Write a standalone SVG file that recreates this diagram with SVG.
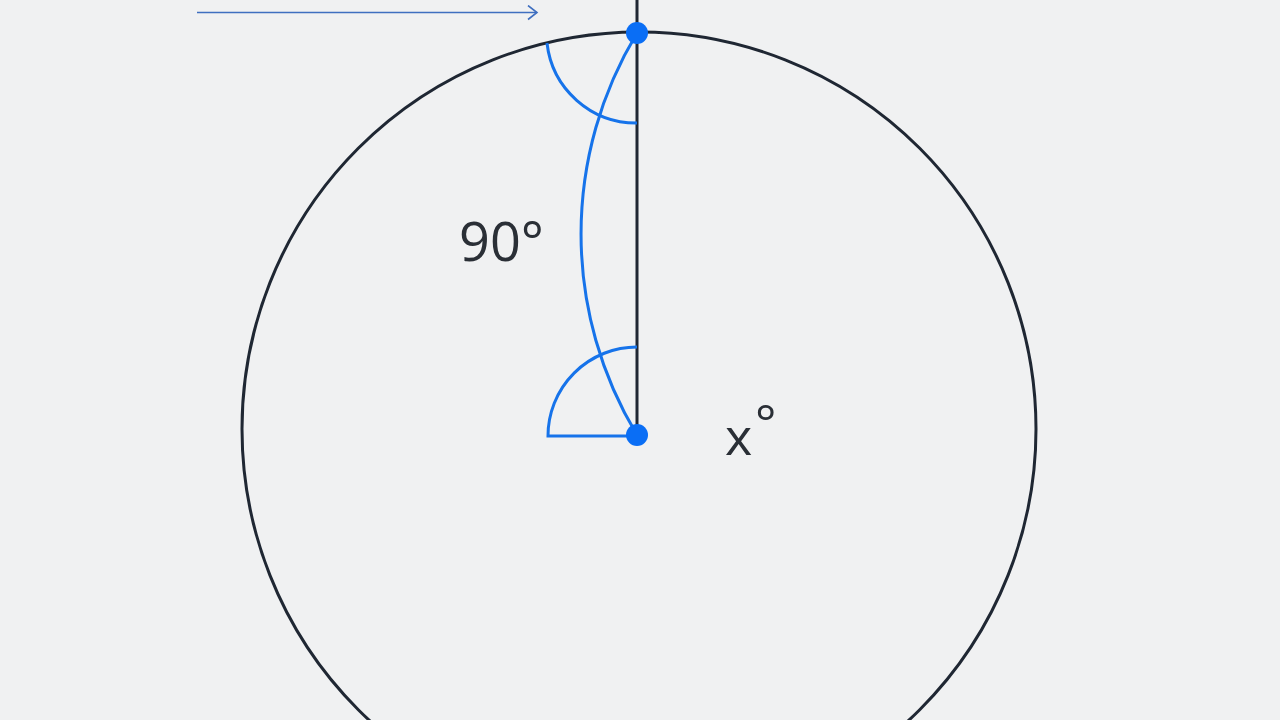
<svg xmlns="http://www.w3.org/2000/svg" width="1280" height="720" viewBox="0 0 1280 720">
<defs>
<style>
.dark{fill:none;stroke:#1f2733;stroke-width:3}
.blue{fill:none;stroke:#1673ea;stroke-width:3}
.dot{fill:#0a6ef5}
.lbl{font-family:"Open Sans","Noto Sans",sans-serif;fill:#2a2f36}
</style>
<marker id="chev" markerWidth="14" markerHeight="16" refX="11" refY="8" orient="auto" markerUnits="userSpaceOnUse">
<path d="M2,1 L11,8 L2,15" fill="none" stroke="#3f6fc0" stroke-width="1.6"/>
</marker>
</defs>
<rect width="1280" height="720" fill="#f0f1f2"/>
<g id="circle"><circle class="dark" cx="639" cy="429" r="397"/></g>
<g id="connectors">
<line class="dark" x1="637" y1="0" x2="637" y2="435"/>
<path class="blue" d="M637,33 A389,389 0 0 0 637,435"/>
<path class="blue" d="M547,43 A90,90 0 0 0 637,123"/>
<path class="blue" d="M637,347 A89,89 0 0 0 548,436 L637,436"/>
<line x1="197" y1="12.5" x2="537" y2="12.5" stroke="#3f6fc0" stroke-width="1.6" marker-end="url(#chev)"/>
</g>
<g id="top-point"><circle class="dot" cx="637" cy="33" r="11"/></g>
<g id="center-point"><circle class="dot" cx="637" cy="435" r="11"/></g>
<g id="label-90"><text class="lbl" x="459" y="261" font-size="54">90°</text></g>
<g id="label-x"><text class="lbl" x="725" y="455" font-size="52">x<tspan x="755" y="441" font-size="50">°</tspan></text></g>
</svg>
